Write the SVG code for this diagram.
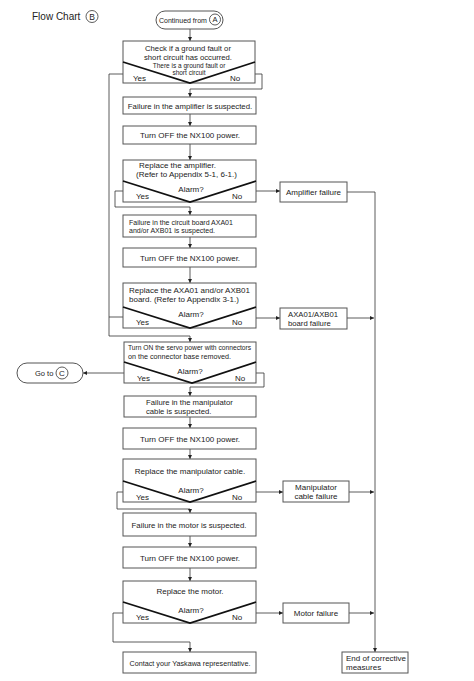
<svg xmlns="http://www.w3.org/2000/svg" width="474" height="681" viewBox="0 0 474 681">
<defs>
<marker id="ah" viewBox="0 0 6 6" refX="6" refY="3" markerWidth="4" markerHeight="4" orient="auto" markerUnits="userSpaceOnUse">
<path d="M0,0 L6,3 L0,6 Z" fill="#222"/>
</marker>
</defs>
<style>
text{font-family:"Liberation Sans",Arial,sans-serif;fill:#222;font-size:8px}
.c{text-anchor:middle}
.s{font-size:6.5px}
.t{font-size:7px}
.ttl{font-size:10px}
.box{fill:#fff;stroke:#555;stroke-width:1}
.v{fill:none;stroke:#111;stroke-width:1.8}
.ln{fill:none;stroke:#333;stroke-width:0.8}
.ar{fill:none;stroke:#333;stroke-width:0.8;marker-end:url(#ah)}
.cir{fill:#fff;stroke:#333;stroke-width:0.8}
</style>
<rect width="474" height="681" fill="#fff"/>
<g id="title">
<text class="ttl" x="32" y="20">Flow Chart</text>
<circle class="cir" cx="92" cy="16.5" r="6"/>
<text class="c" x="92" y="19.5" style="font-size:8.5px">B</text>
</g>
<g id="connectors">
<path class="ar" d="M190,29 V41"/>
<path class="ar" d="M255,74 H262 V89 H190 V97"/>
<path class="ar" d="M123,74 H109 V336 H190 V342"/>
<path class="ar" d="M190,114 V126"/>
<path class="ar" d="M190,144 V160"/>
<path class="ar" d="M256,191 H280"/>
<path class="ar" d="M123,191 H115 V207 H190 V215"/>
<path class="ar" d="M347,192 H375 V652"/>
<path class="ar" d="M190,237 V248"/>
<path class="ar" d="M190,267 V283"/>
<path class="ar" d="M256,318 H280"/>
<path class="ar" d="M347,318 H374"/>
<path class="ln" d="M123,317 H109"/>
<path class="ar" d="M124,373 H83"/>
<path class="ar" d="M256,373 H264 V387 H190 V396"/>
<path class="ar" d="M190,417 V428"/>
<path class="ar" d="M190,449 V459"/>
<path class="ar" d="M256,492 H283"/>
<path class="ar" d="M349,492 H374"/>
<path class="ar" d="M123,492 H117 V509 H190 V513"/>
<path class="ar" d="M190,536 V547"/>
<path class="ar" d="M190,568 V581"/>
<path class="ar" d="M256,613 H283"/>
<path class="ar" d="M349,613 H374"/>
<path class="ar" d="M123,613 H113 V642 H190 V652"/>
</g>
<g id="start">
<rect class="box" x="156" y="11" width="67" height="18" rx="9"/>
<text x="159" y="22.5" class="t">Continued from</text>
<circle class="cir" cx="215" cy="19.5" r="5.5"/>
<text class="c" x="215" y="22.3" style="font-size:7.5px">A</text>
</g>
<g id="check-ground">
<rect class="box" x="123" y="41" width="132" height="42"/>
<path class="v" d="M123,62 L190,83 L255,62"/>
<text class="c" x="188" y="51" style="font-size:7.7px">Check if a ground fault or</text>
<text class="c" x="188" y="60" style="font-size:7.7px">short circuit has occurred.</text>
<text class="c s" x="189" y="68">There is a ground fault or</text>
<text class="c s" x="189" y="74.5">short circuit</text>
<text x="133" y="81">Yes</text>
<text x="230" y="81">No</text>
</g>
<g id="amp-suspected">
<rect class="box" x="123" y="97" width="133" height="17"/>
<text class="c" x="190" y="108.5" style="font-size:7.8px">Failure in the amplifier is suspected.</text>
</g>
<g id="off-1">
<rect class="box" x="123" y="126" width="133" height="18"/>
<text class="c" x="190" y="138">Turn OFF the NX100 power.</text>
</g>
<g id="replace-amp">
<rect class="box" x="123" y="160" width="133" height="42"/>
<path class="v" d="M123,181 L190,202 L256,181"/>
<text x="139" y="168">Replace the amplifier.</text>
<text x="136" y="177">(Refer to Appendix 5-1, 6-1.)</text>
<text class="c" x="191" y="192">Alarm?</text>
<text x="136" y="199">Yes</text>
<text x="232" y="199">No</text>
</g>
<g id="amp-failure">
<rect class="box" x="280" y="182" width="67" height="20"/>
<text class="c" x="313.5" y="195">Amplifier failure</text>
</g>
<g id="board-suspected">
<rect class="box" x="123" y="215" width="133" height="22"/>
<text x="129" y="224.5" class="t">Failure in the circuit board AXA01</text>
<text x="129" y="233" class="t">and/or AXB01 is suspected.</text>
</g>
<g id="off-2">
<rect class="box" x="123" y="248" width="133" height="19"/>
<text class="c" x="190" y="260.5">Turn OFF the NX100 power.</text>
</g>
<g id="replace-board">
<rect class="box" x="123" y="283" width="133" height="45"/>
<path class="v" d="M123,307 L190,328 L256,307"/>
<text x="129" y="293">Replace the AXA01 and/or AXB01</text>
<text x="129" y="302">board.  (Refer to Appendix 3-1.)</text>
<text class="c" x="191" y="317">Alarm?</text>
<text x="136" y="325">Yes</text>
<text x="232" y="325">No</text>
</g>
<g id="board-failure">
<rect class="box" x="280" y="308" width="67" height="21"/>
<text x="288" y="316.5" style="font-size:7.7px">AXA01/AXB01</text>
<text x="288" y="325.5" style="font-size:7.7px">board failure</text>
</g>
<g id="servo-on">
<rect class="box" x="124" y="342" width="132" height="41"/>
<path class="v" d="M124,362 L192,383 L256,362"/>
<text x="128" y="350" style="font-size:6.7px">Turn ON the servo power with connectors</text>
<text x="128" y="359" style="font-size:7.2px">on the connector base removed.</text>
<text class="c" x="190" y="374">Alarm?</text>
<text x="137" y="381">Yes</text>
<text x="235" y="381">No</text>
</g>
<g id="goto-c">
<rect class="box" x="17" y="363" width="66" height="20" rx="10"/>
<text x="35" y="376" style="font-size:7.5px">Go to</text>
<circle class="cir" cx="62" cy="373" r="6"/>
<text class="c" x="62" y="376">C</text>
</g>
<g id="cable-suspected">
<rect class="box" x="124" y="396" width="132" height="21"/>
<text x="146" y="405" style="font-size:7.7px">Failure in the manipulator</text>
<text x="146" y="414" style="font-size:7.7px">cable is suspected.</text>
</g>
<g id="off-3">
<rect class="box" x="123" y="428" width="133" height="21"/>
<text class="c" x="190" y="441.5">Turn OFF the NX100 power.</text>
</g>
<g id="replace-cable">
<rect class="box" x="123" y="459" width="133" height="43"/>
<path class="v" d="M123,481 L190,502 L256,481"/>
<text class="c" x="190" y="474">Replace the manipulator cable.</text>
<text class="c" x="191" y="493">Alarm?</text>
<text x="136" y="499.5">Yes</text>
<text x="232" y="499.5">No</text>
</g>
<g id="cable-failure">
<rect class="box" x="283" y="481" width="66" height="21"/>
<text class="c" x="316" y="489.5">Manipulator</text>
<text class="c" x="316" y="498.5">cable failure</text>
</g>
<g id="motor-suspected">
<rect class="box" x="123" y="513" width="133" height="23"/>
<text class="c" x="189" y="527.5" style="font-size:7.8px">Failure in the motor is suspected.</text>
</g>
<g id="off-4">
<rect class="box" x="123" y="547" width="133" height="21"/>
<text class="c" x="190" y="560.5">Turn OFF the NX100 power.</text>
</g>
<g id="replace-motor">
<rect class="box" x="123" y="581" width="133" height="42"/>
<path class="v" d="M123,602 L190,623 L256,602"/>
<text class="c" x="190" y="593.5">Replace the motor.</text>
<text class="c" x="191" y="613">Alarm?</text>
<text x="136" y="620">Yes</text>
<text x="232" y="620">No</text>
</g>
<g id="motor-failure">
<rect class="box" x="283" y="603" width="66" height="20"/>
<text class="c" x="316" y="616">Motor failure</text>
</g>
<g id="contact">
<rect class="box" x="123" y="652" width="133" height="21"/>
<text class="c" x="190" y="665.5" style="font-size:7.2px">Contact your Yaskawa representative.</text>
</g>
<g id="end">
<rect class="box" x="342" y="652" width="66" height="21"/>
<text x="346" y="661">End of corrective</text>
<text x="346" y="670">measures</text>
</g>
</svg>
